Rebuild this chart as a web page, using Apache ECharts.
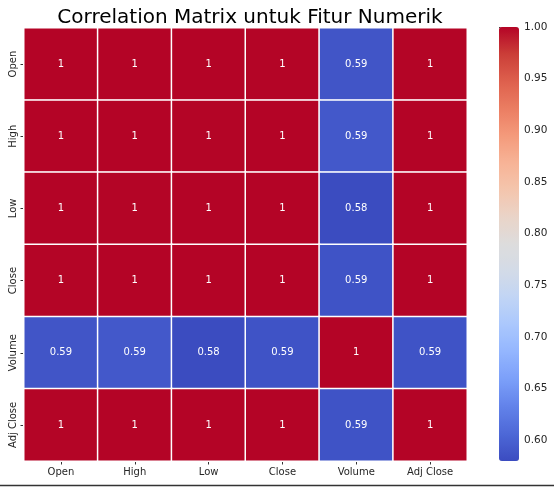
<!DOCTYPE html>
<html>
<head>
<meta charset="utf-8">
<script src="https://cdn.jsdelivr.net/npm/echarts@6/dist/echarts.min.js"></script>
<style>
html,body{margin:0;padding:0;background:#fff;}
#chart{width:554px;height:487px;}
</style>
</head>
<body>
<div id="chart"></div>
<script>
const features = ['Open', 'High', 'Low', 'Close', 'Volume', 'Adj Close'];
const rowOpen     = [1.0000, 0.9999, 0.9998, 0.9997, 0.5880, 0.9997];
const rowHigh     = [0.9999, 1.0000, 0.9997, 0.9999, 0.5910, 0.9999];
const rowLow      = [0.9998, 0.9997, 1.0000, 0.9999, 0.5797, 0.9999];
const rowClose    = [0.9997, 0.9999, 0.9999, 1.0000, 0.5860, 1.0000];
const rowVolume   = [0.5880, 0.5910, 0.5797, 0.5860, 1.0000, 0.5860];
const rowAdjClose = [0.9997, 0.9999, 0.9999, 1.0000, 0.5860, 1.0000];
const matrix = [rowOpen, rowHigh, rowLow, rowClose, rowVolume, rowAdjClose];
const colorbarTicks = [0.60, 0.65, 0.70, 0.75, 0.80, 0.85, 0.90, 0.95, 1.00];
const vMin = 0.5797, vMax = 1.0;

const coolwarm = ['#3b4cc0','#4d68d7','#6282ea','#7b9ff9','#93b5fe','#aac7fd','#c0d4f5','#d3dbe7',
  '#dddcdc','#ead4c8','#f4c5ad','#f7b396','#f49a7b','#eb7d62','#de604d','#cb3e38','#b40426'];

const data = [];
matrix.forEach((row, i) => row.forEach((v, j) => data.push([j, i, v])));

const chart = echarts.init(document.getElementById('chart'), null, {renderer: 'canvas'});
const font = 'DejaVu Sans';
chart.setOption({
  backgroundColor: '#fff',
  animation: false,
  textStyle: {fontFamily: font},
  title: {
    text: 'Correlation Matrix untuk Fitur Numerik',
    left: 245, top: 3, textAlign: 'center',
    textStyle: {fontFamily: font, fontSize: 20, fontWeight: 'normal', color: '#000'}
  },
  grid: [
    {left: 24, top: 28, width: 443, height: 433},
    {left: 499, top: 27, width: 20, height: 434}
  ],
  xAxis: [
    {type: 'category', data: features, gridIndex: 0, position: 'bottom',
     axisLine: {show: false}, splitLine: {show: false},
     axisTick: {show: true, alignWithLabel: true, length: 3.5, lineStyle: {color: '#333'}},
     axisLabel: {fontFamily: font, fontSize: 10, color: '#262626', margin: 6}},
    {type: 'value', gridIndex: 1, show: false, min: 0, max: 1}
  ],
  yAxis: [
    {type: 'category', data: features, gridIndex: 0, inverse: true,
     axisLine: {show: false}, splitLine: {show: false},
     axisTick: {show: true, alignWithLabel: true, length: 3.5, lineStyle: {color: '#333'}},
     axisLabel: {fontFamily: font, fontSize: 10, color: '#262626', rotate: 90, margin: 6}},
    {type: 'value', gridIndex: 1, position: 'right', min: vMin, max: vMax,
     axisLine: {show: false}, splitLine: {show: false},
     axisTick: {show: true, length: 3.5, lineStyle: {color: '#333'}, customValues: colorbarTicks},
     axisLabel: {fontFamily: font, fontSize: 10.5, color: '#262626', margin: 5,
       customValues: colorbarTicks, formatter: v => v.toFixed(2)}}
  ],
  visualMap: {
    type: 'continuous', min: vMin, max: vMax, calculable: false, seriesIndex: 0,
    orient: 'vertical', left: 499, top: 27, itemWidth: 20, itemHeight: 434,
    padding: 0, text: null, showLabel: false, hoverLink: false,
    inRange: {color: coolwarm}
  },
  series: [{
    type: 'heatmap', xAxisIndex: 0, yAxisIndex: 0, data: data,
    itemStyle: {borderColor: '#fff', borderWidth: 1.5},
    label: {show: true, color: '#fff', fontFamily: font, fontSize: 10,
      formatter: p => String(Number(p.value[2].toFixed(2)))},
    emphasis: {disabled: true}
  }],
  graphic: [{
    type: 'line', shape: {x1: 0, y1: 485.5, x2: 554, y2: 485.5},
    style: {stroke: '#333', lineWidth: 1.5}, silent: true
  }]
});
</script>
</body>
</html>
